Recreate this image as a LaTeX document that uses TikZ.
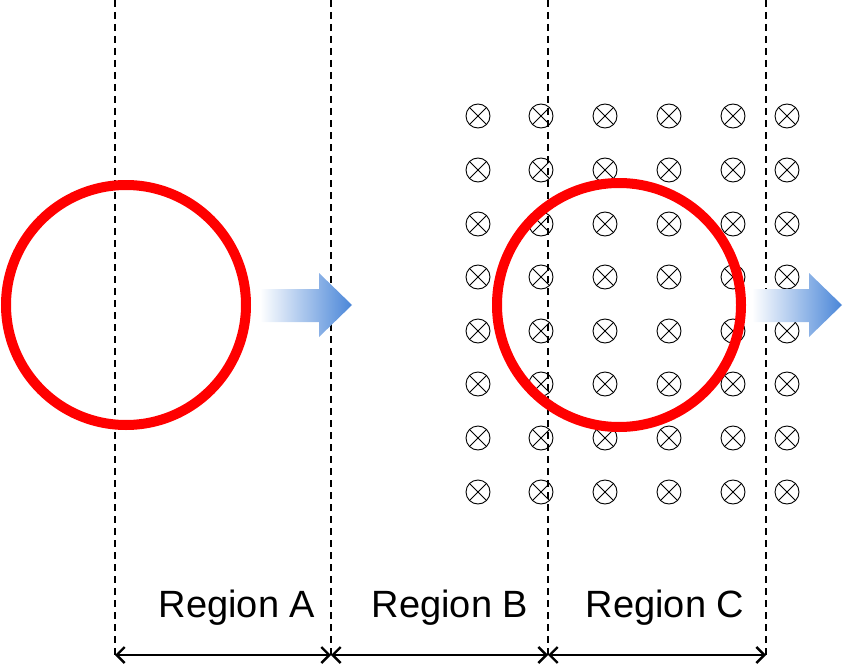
\documentclass[tikz,border=0pt]{standalone}
\usepackage{fontspec}
\setmainfont{Liberation Sans}
\usetikzlibrary{arrows.meta}
\definecolor{arrblue}{HTML}{4A86D8}
\tikzset{
  bound/.style={dashed,line width=1.6pt,dash pattern=on 7pt off 5pt},
  span/.style={{Straight Barb[length=8pt,width=16pt]}-{Straight Barb[length=8pt,width=16pt]},line width=2.4pt},
  loop/.style={draw=red,line width=10pt},
  fieldx/.style={circle,draw,line width=0.9pt,minimum size=24pt,inner sep=0pt,
    path picture={\draw[line width=0.9pt] (path picture bounding box.north west)--(path picture bounding box.south east)
      (path picture bounding box.north east)--(path picture bounding box.south west);}},
  lab/.style={font=\fontsize{38}{40}\selectfont},
  move/.style={left color=white,right color=arrblue,draw=none}
}
\begin{document}
\begin{tikzpicture}[x=1pt,y=-1pt]
\useasboundingbox (0,0) rectangle (852,669);
\foreach \r [count=\j] in {116,170,224,277,331,384,438,492}{
  \foreach \c [count=\i] in {478,541,605,669,733,787}{
    \node[fieldx] (f\i\j) at (\c,\r) {};
  }
}
\foreach \x/\n in {115/a,331/b,548/c,766/d}{
  \coordinate (t\n) at (\x,0);
  \coordinate (b\n) at (\x,655);
  \draw[bound] (t\n) -- (b\n);
}
\draw[span] (ba) -- (bb);
\draw[span] (bb) -- (bc);
\draw[span] (bc) -- (bd);
\node[lab] (la) at (237,608) {Region A};
\node[lab] (lb) at (450,608) {Region B};
\node[lab] (lc) at (665,608) {Region C};
\node[loop,circle,minimum size=240pt,inner sep=0pt] (c1) at (126,305) {};
\node[loop,circle,minimum size=244pt,inner sep=0pt] (c2) at (619,305) {};
\shade[move] (260,289) -- (319,289) -- (319,273) -- (352,305) -- (319,337) -- (319,322) -- (260,322) -- cycle;
\shade[move] (752,289) -- (809,289) -- (809,273) -- (842,305) -- (809,337) -- (809,322) -- (752,322) -- cycle;
\end{tikzpicture}
\end{document}
